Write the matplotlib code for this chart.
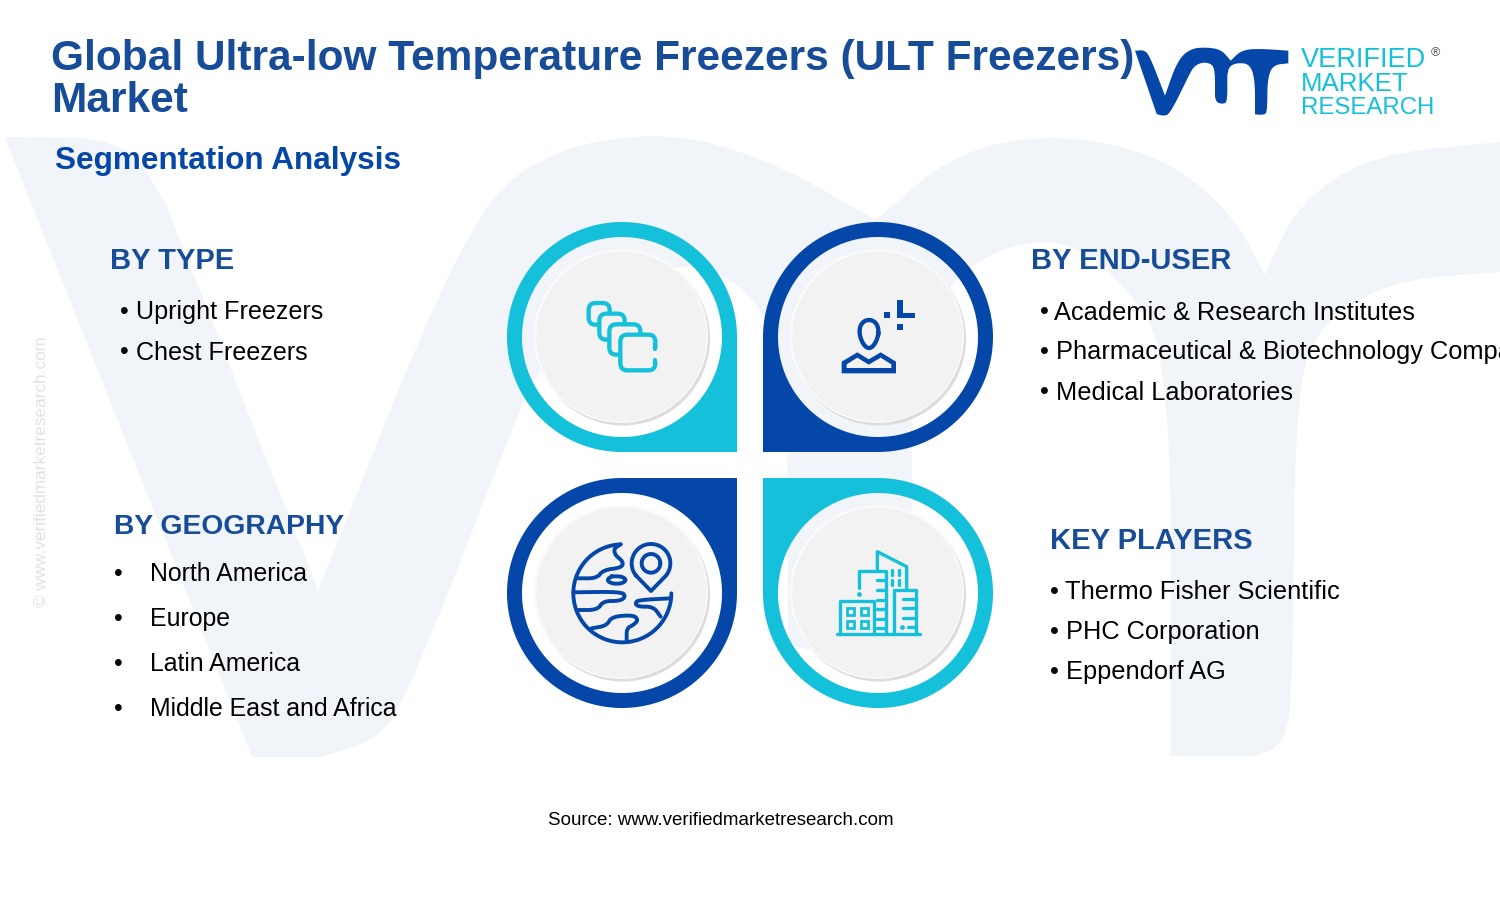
import numpy as np
import matplotlib
matplotlib.use("Agg")
import matplotlib.pyplot as plt
from matplotlib.path import Path
from matplotlib.patches import PathPatch, Polygon, Circle, Rectangle, FancyBboxPatch

plt.rcParams['font.family'] = ['Liberation Sans', 'DejaVu Sans']

TITLE = "Global Ultra-low Temperature Freezers (ULT Freezers)\nMarket"
SUBTITLE = "Segmentation Analysis"
SOURCE = "Source: www.verifiedmarketresearch.com"
COPYRIGHT = "© www.verifiedmarketresearch.com"
HEAD_TYPE = "BY TYPE"
ITEMS_TYPE = ["Upright Freezers", "Chest Freezers"]
HEAD_USER = "BY END-USER"
ITEMS_USER = ["Academic & Research Institutes", "Pharmaceutical & Biotechnology Companies", "Medical Laboratories"]
HEAD_GEO = "BY GEOGRAPHY"
ITEMS_GEO = ["North America", "Europe", "Latin America", "Middle East and Africa"]
HEAD_KEY = "KEY PLAYERS"
ITEMS_KEY = ["Thermo Fisher Scientific", "PHC Corporation", "Eppendorf AG"]
LOGO_WORDS = ["VERIFIED", "MARKET", "RESEARCH"]

BLUE = '#0547a9'
TEAL = '#14c0da'
HEAD = '#174c98'
PALE = '#f1f4f9'
FACE = '#f2f2f2'

fig = plt.figure(figsize=(15, 9.11), dpi=100, facecolor='white')
ax = fig.add_axes([0, 0, 1, 1])
ax.set_xlim(0, 1500)
ax.set_ylim(911, 0)
ax.axis('off')


def chaikin(pts, n=4):
    p = np.asarray(pts, float)
    for _ in range(n):
        a = 0.75 * p[:-1] + 0.25 * p[1:]
        b = 0.25 * p[:-1] + 0.75 * p[1:]
        q = np.empty((2 * len(a), 2))
        q[0::2] = a
        q[1::2] = b
        p = np.vstack([p[0], q, p[-1]])
    return p


def shape(segments, color, z=1):
    p = np.vstack([chaikin(s) for s in segments])
    ax.add_patch(Polygon(p, closed=True, fc=color, ec='none', zorder=z))


# ---- pale watermark letters
shape([
    [(5, 137), (125, 138), (165, 202)],
    [(165, 202), (318, 590)],
    [(318, 590), (465, 225), (540, 152), (664, 130), (770, 160), (876, 220)],
    [(876, 220), (955, 152), (1055, 133), (1160, 155), (1230, 210), (1265, 275)],
    [(1265, 275), (1297, 205), (1370, 155), (1500, 142)],
    [(1500, 142), (1500, 272)],
    [(1500, 272), (1394, 280), (1322, 320), (1295, 390), (1293, 684), (1285, 745), (1254, 756)],
    [(1254, 756), (1171, 756)],
    [(1171, 756), (1171, 363), (1128, 285), (1055, 232), (960, 265), (912, 350)],
    [(912, 350), (912, 640)],
    [(912, 640), (905, 650), (795, 650), (788, 640)],
    [(788, 640), (788, 370), (750, 285), (667, 255), (540, 367), (523, 402)],
    [(523, 402), (407, 697), (378, 740), (320, 757)],
    [(320, 757), (252, 757)],
    [(252, 757), (5, 137)],
], PALE, z=0)

# ---- logo mark (vm swoosh), points in 3x crop space
LX, LY = 1120, 30
logo_pts = [
    [(45, 62), (75, 60), (92, 85), (135, 197)],
    [(135, 197), (172, 92), (212, 55), (265, 52), (305, 60), (332, 92)],
    [(332, 92), (365, 60), (420, 56), (505, 62)],
    [(505, 62), (505, 100)],
    [(505, 100), (458, 105), (442, 150), (442, 245), (432, 255), (405, 253)],
    [(405, 253), (405, 150), (390, 103), (355, 98), (328, 108), (322, 135)],
    [(322, 135), (322, 215), (310, 222), (290, 218), (285, 200)],
    [(285, 200), (285, 130), (278, 103), (250, 96), (222, 108), (205, 140)],
    [(205, 140), (150, 252), (130, 258), (110, 252)],
    [(110, 252), (45, 62)],
]
shape([np.array(s) / 3 + (LX, LY) for s in logo_pts], BLUE, z=2)


def ring(cx, cy, corner, color):
    """Ring of outer radius 115 and inner radius 100 with one square corner."""
    R, r = 115, 100
    start = {'br': 90, 'bl': 180, 'tl': 270, 'tr': 0}[corner]
    t = np.radians(np.linspace(start, start + 270, 181))
    outer = np.c_[cx + R * np.cos(t), cy + R * np.sin(t)]
    sx = 1 if corner in ('br', 'tr') else -1
    sy = 1 if corner in ('br', 'bl') else -1
    pts = np.vstack([outer, [(cx + sx * R, cy + sy * R)], outer[:1]])
    t2 = np.linspace(0, 2 * np.pi, 181)[::-1]
    inner = np.c_[cx + r * np.cos(t2), cy + r * np.sin(t2)]
    v = np.vstack([pts, inner])
    codes = [Path.MOVETO] + [Path.LINETO] * (len(pts) - 1) + [Path.MOVETO] + [Path.LINETO] * (len(inner) - 1)
    ax.add_patch(PathPatch(Path(v, codes), fc=color, ec='none', zorder=2))
    ax.add_patch(Circle((cx + 1, cy + 1.5), 87, fc='#dcdcdc', ec='none', zorder=2))
    ax.add_patch(Circle((cx - 1, cy - 1), 87, fc='#fafafa', ec='none', zorder=2))
    ax.add_patch(Circle((cx - 0.5, cy - 0.5), 85, fc=FACE, ec='none', zorder=2))


ring(622, 337, 'br', TEAL)
ring(878, 337, 'bl', BLUE)
ring(622, 593, 'tr', BLUE)
ring(878, 593, 'tl', TEAL)


# ---- icon helpers: coordinates given in 3x crop space
def line(ox, oy, pts, color, lw, smoothed=False, z=3):
    p = np.array(pts, float)
    if smoothed:
        p = chaikin(p, 2)
    p = p / 3 + (ox, oy)
    ax.plot(p[:, 0], p[:, 1], color=color, lw=lw, solid_capstyle='round', solid_joinstyle='round', zorder=z)


def poly(ox, oy, pts, color, z=3):
    ax.add_patch(Polygon(np.array(pts, float) / 3 + (ox, oy), closed=True, fc=color, ec='none', zorder=z))


# icon 1: stacked rounded squares
for x0, y0, x1, y1 in [(296, 279, 359, 344), (328, 311, 404, 389), (358, 343, 451, 434), (391, 374, 496, 481)]:
    ox, oy = 490, 210
    ax.add_patch(FancyBboxPatch((ox + x0 / 3 + 6, oy + y0 / 3 + 6), (x1 - x0) / 3 - 12, (y1 - y0) / 3 - 12,
                                boxstyle='round,pad=6,rounding_size=7', fc=FACE, ec=TEAL, lw=3.1, zorder=3))
ax.add_patch(Rectangle((652, 348), 9, 14, fc=FACE, ec='none', zorder=3))
line(490, 210, [(496, 400), (496, 418)], TEAL, 3.1, z=4)
line(490, 210, [(496, 450), (496, 462)], TEAL, 3.1, z=4)

# icon 2: person with marks
ox, oy = 750, 210
t = np.linspace(0, 2 * np.pi, 60)
ax.plot(ox + 119 + 10.5 * np.cos(t) * (1.05 - 0.35 * (np.sin(t) + 1) / 2), oy + 124 + 14 * np.sin(t), color=BLUE, lw=3.1, zorder=3)
poly(ox, oy, [(275, 490), (275, 455), (322, 427), (356, 448), (392, 427), (438, 455), (438, 490)], BLUE)
poly(ox, oy, [(290, 474), (290, 463), (322, 443), (356, 464), (392, 443), (424, 463), (424, 474)], FACE)
ax.add_patch(Rectangle((ox + 440 / 3, oy + 270 / 3), 18 / 3, 55 / 3, fc=BLUE, ec='none', zorder=3))
ax.add_patch(Rectangle((ox + 440 / 3, oy + 308 / 3), 55 / 3, 17 / 3, fc=BLUE, ec='none', zorder=3))
ax.add_patch(Rectangle((ox + 403 / 3, oy + 307 / 3), 6, 6, fc=BLUE, ec='none', zorder=3))
ax.add_patch(Rectangle((ox + 440 / 3, oy + 343 / 3), 6, 6, fc=BLUE, ec='none', zorder=3))

# icon 3: globe and pin
ox, oy = 490, 465
cx, cy = 397, 385
t = np.radians(np.linspace(-92, -360, 120))
line(ox, oy, np.c_[cx + 147 * np.cos(t), cy + 147 * np.sin(t)], BLUE, 2.8)
for pts in [
    [(392, 238), (372, 250), (375, 270), (400, 290), (395, 308), (340, 315), (320, 340), (265, 340)],
    [(250, 382), (395, 380), (407, 395), (390, 408), (340, 408), (322, 435), (262, 435)],
    [(305, 490), (350, 482), (365, 455), (430, 450), (445, 465), (430, 480), (410, 490), (410, 525)],
    [(542, 400), (445, 405), (435, 415), (445, 425), (490, 425), (512, 455)],
]:
    line(ox, oy, pts, BLUE, 2.8, smoothed=True)
line(ox, oy, [(365, 334), (395, 334), (410, 345), (395, 356), (365, 356), (350, 345), (365, 334)], BLUE, 2.8, smoothed=True)
t = np.radians(np.linspace(140, 400, 80))
pin = np.vstack([np.c_[483 + 58 * np.cos(t), 295 + 58 * np.sin(t)], [(483, 378)]])
pin = np.vstack([pin, pin[:1]])
line(ox, oy, pin, BLUE, 2.8)
t = np.linspace(0, 2 * np.pi, 50)
line(ox, oy, np.c_[483 + 28 * np.cos(t), 295 + 28 * np.sin(t)], BLUE, 2.8)

# icon 4: buildings
ox, oy = 750, 465
for pts in [
    [(260, 506), (510, 506)],
    [(270, 506), (270, 408), (372, 408), (372, 506)],
    [(328, 368), (328, 317), (408, 317), (408, 506)],
    [(382, 317), (382, 260), (470, 305), (470, 372)],
    [(432, 506), (432, 374), (497, 374), (497, 506)],
    [(427, 316), (427, 330)], [(447, 316), (447, 330)], [(427, 345), (427, 360)], [(447, 345), (447, 360)],
    [(380, 345), (408, 345)], [(380, 375), (408, 375)], [(380, 405), (408, 405)],
    [(380, 432), (408, 432)], [(380, 462), (408, 462)], [(380, 490), (408, 490)],
    [(460, 402), (497, 402)], [(460, 430), (497, 430)], [(460, 458), (497, 458)], [(475, 485), (497, 485)],
]:
    line(ox, oy, pts, TEAL, 2.4)
for x0, y0 in [(290, 428), (332, 428), (290, 468), (332, 468)]:
    ax.add_patch(Rectangle((ox + x0 / 3, oy + y0 / 3), 7, 7, fc='none', ec=TEAL, lw=2, zorder=3))
ax.plot([ox + 328 / 3, ox + 455 / 3], [oy + 388 / 3, oy + 485 / 3], ls='none', marker='o', ms=2.4, color=TEAL, zorder=3)

# ---- text
ax.text(51, 112, TITLE, fontsize=30.55, fontweight='bold', color=HEAD, va='baseline', ha='left', linespacing=1.07, zorder=5)
ax.text(55, 169, SUBTITLE, fontsize=22.7, fontweight='bold', color=BLUE, va='baseline', zorder=5)
ax.text(41, 472, COPYRIGHT, fontsize=12.36, color='#e2e2e2', rotation=90, va='center', ha='center', rotation_mode='anchor', zorder=1)
ax.text(721, 825, SOURCE, fontsize=13.5, color='black', ha='center', va='baseline', zorder=5)


def block(head, hf, hx, hy, items, itf, bx, tx, y0, dy):
    ax.text(hx, hy, head, fontsize=hf, fontweight='bold', color=HEAD, va='baseline', zorder=5)
    for i, it in enumerate(items):
        y = y0 + i * dy
        ax.text(bx, y, '•', fontsize=itf, color='black', ha='left', va='baseline', zorder=5)
        ax.text(tx[i] if isinstance(tx, list) else tx, y, it, fontsize=itf, color='black', va='baseline', zorder=5, clip_on=True)


block(HEAD_TYPE, 20.95, 110, 269, ITEMS_TYPE, 18.1, 120, 136, 319.5, 40)
block(HEAD_USER, 20.95, 1031, 269, ITEMS_USER, 18.25, 1040, [1054, 1056, 1056], 319.5, 40)
block(HEAD_GEO, 20.3, 114, 534, ITEMS_GEO, 17.95, 114, 149.5, 581, 45)
block(HEAD_KEY, 21.0, 1050, 549, ITEMS_KEY, 18.25, 1050, [1065, 1066, 1066], 599, 40)

# ---- logo words
LOGO_SIZES = [19.5, 18.6, 17.3]
LOGO_Y = [67, 91, 114]
for w, s, y in zip(LOGO_WORDS, LOGO_SIZES, LOGO_Y):
    ax.text(1301, y, w, fontsize=s, color=TEAL, va='baseline', zorder=5)
ax.text(1431, 56, '®', fontsize=9, color='#555555', va='baseline', zorder=5)

fig.savefig('out.png', dpi=100, facecolor='white')
